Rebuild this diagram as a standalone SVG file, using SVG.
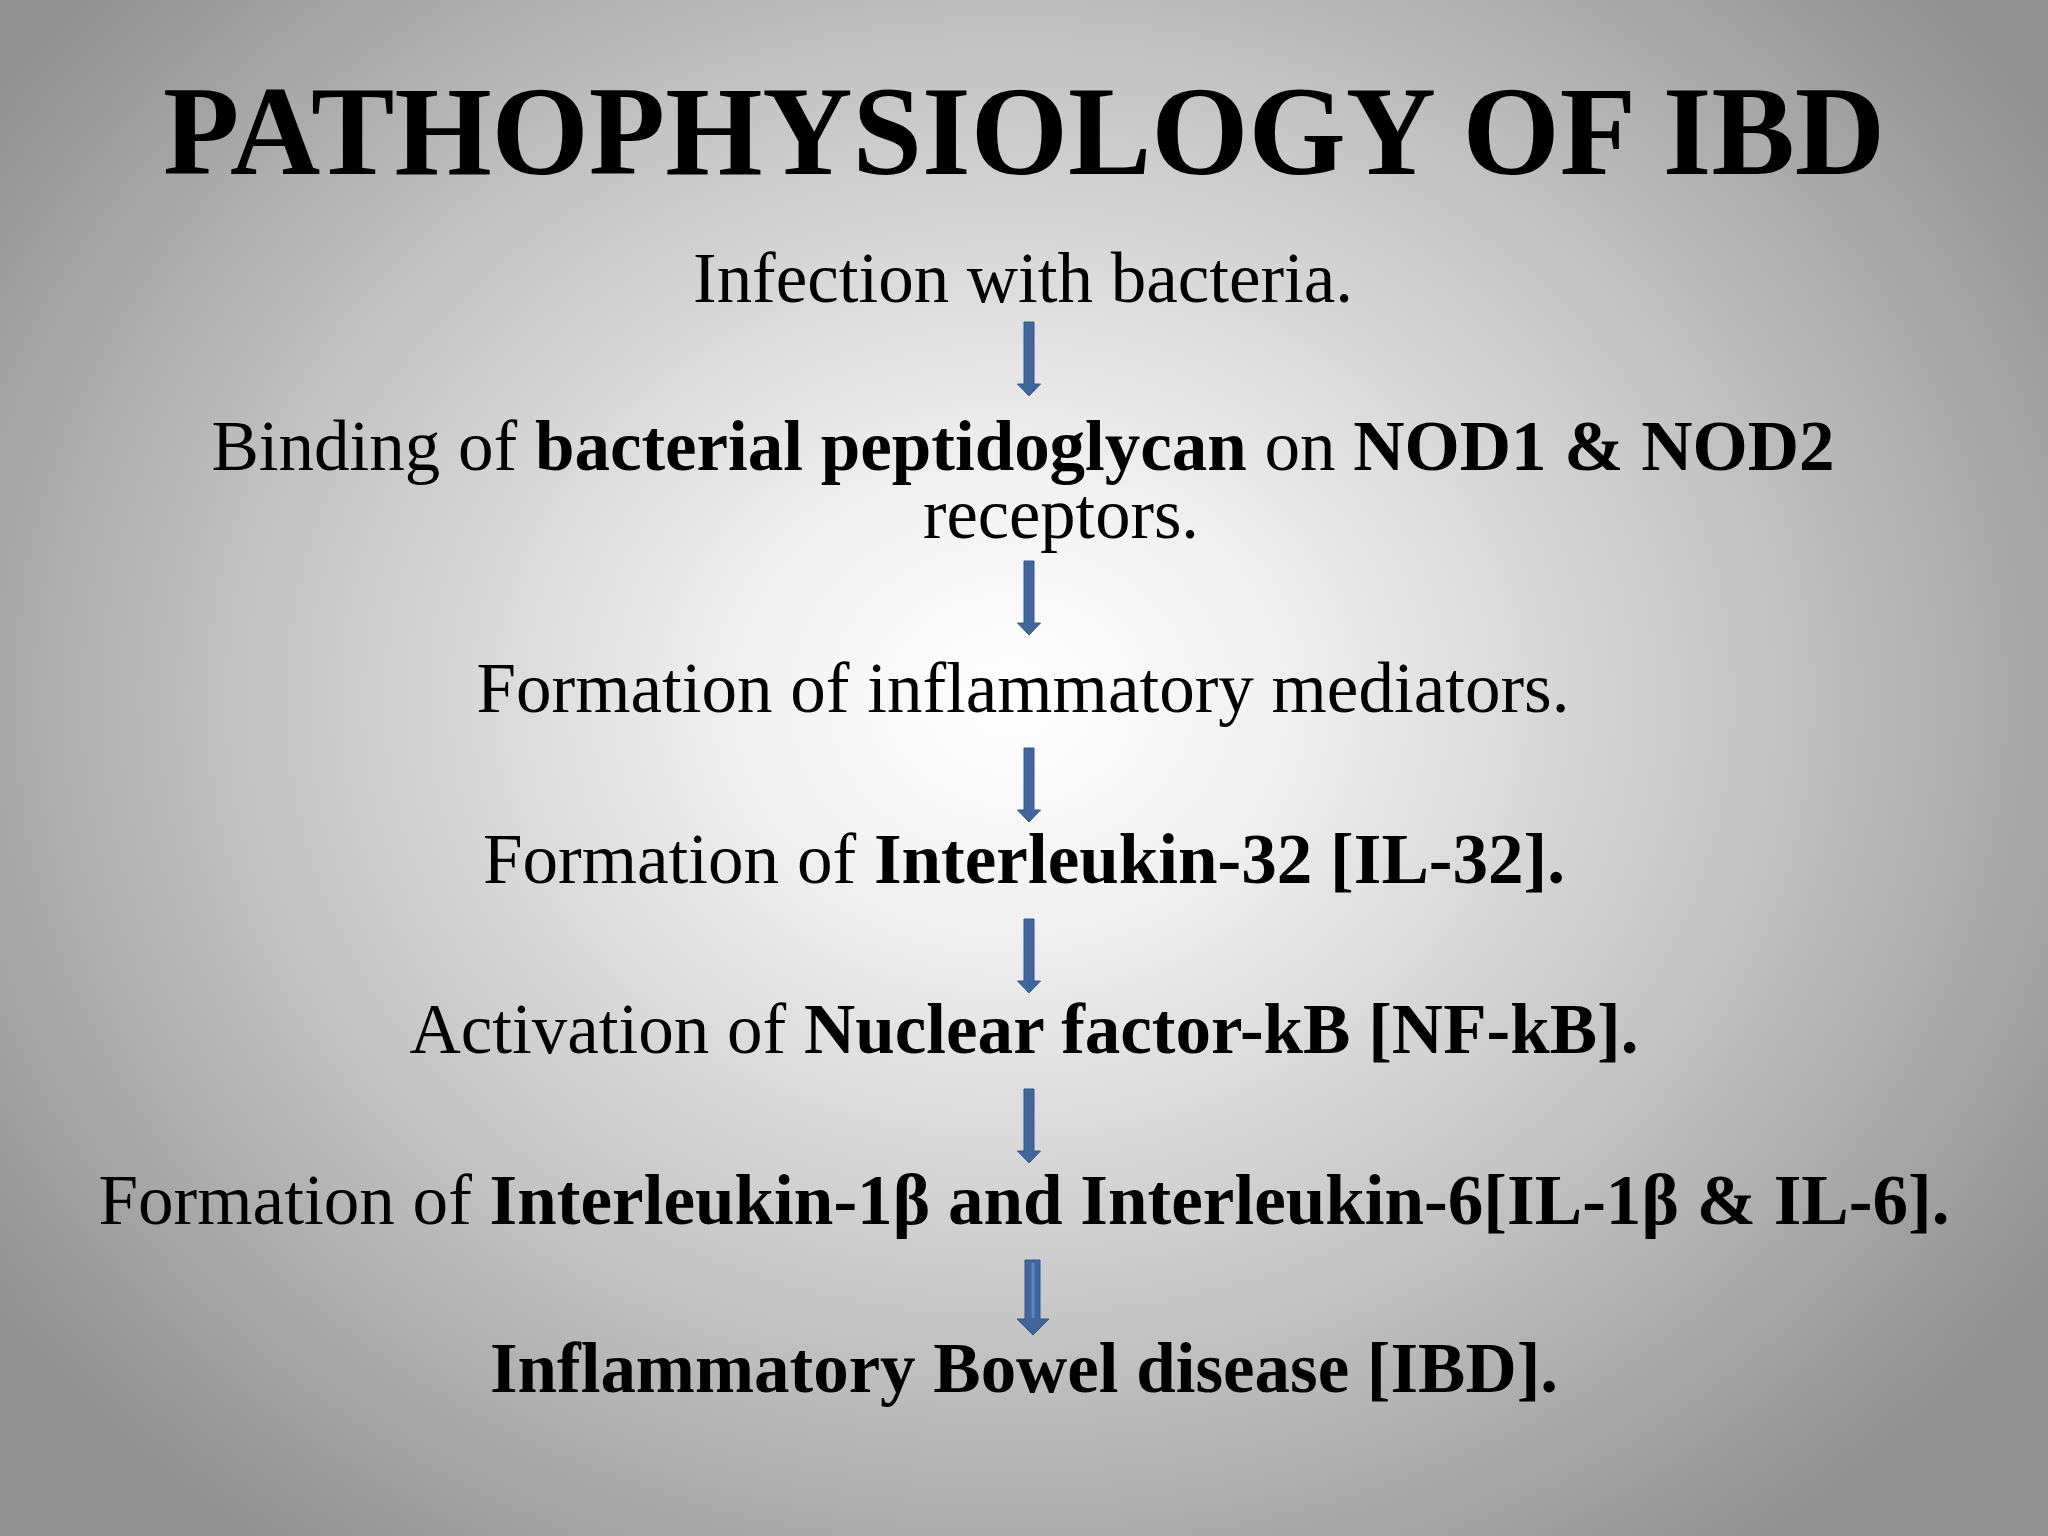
<svg xmlns="http://www.w3.org/2000/svg" width="2048" height="1536" viewBox="0 0 2048 1536">
<defs>
<radialGradient id="bg" cx="1010" cy="700" r="1250" gradientUnits="userSpaceOnUse" gradientTransform="translate(1010 700) scale(1 0.85) translate(-1010 -700)">
<stop offset="0" stop-color="#ffffff"/>
<stop offset="0.2" stop-color="#f2f2f2"/>
<stop offset="0.6" stop-color="#c4c4c4"/>
<stop offset="1" stop-color="#909090"/>
</radialGradient>
<path id="arr" d="M-5,0 H5 V62 H11.5 L0,74 L-11.5,62 H-5 Z"/>
</defs>
<style>
.t{font-family:"Liberation Serif","Times New Roman",serif;font-size:72px;fill:#000;text-anchor:middle}
.b{font-weight:bold}
.title{font-family:"Liberation Serif","Times New Roman",serif;font-size:128px;font-weight:bold;fill:#000;text-anchor:middle}
.a{fill:#41669b;stroke:#35568a;stroke-width:1}
</style>
<rect width="2048" height="1536" fill="url(#bg)"/>
<g id="title"><text class="title" x="1024" y="174" textLength="1722" lengthAdjust="spacingAndGlyphs">PATHOPHYSIOLOGY OF IBD</text></g>
<g id="n1"><text class="t" x="1023" y="302" textLength="660" lengthAdjust="spacingAndGlyphs">Infection with bacteria.</text></g>
<g id="n2"><text class="t" x="1023" y="470" textLength="1623" lengthAdjust="spacingAndGlyphs">Binding of <tspan class="b">bacterial peptidoglycan</tspan> on <tspan class="b">NOD1 &amp; NOD2</tspan></text>
<text class="t" x="1061" y="538" textLength="276" lengthAdjust="spacingAndGlyphs">receptors.</text></g>
<g id="n3"><text class="t" x="1023" y="712" textLength="1093" lengthAdjust="spacingAndGlyphs">Formation of inflammatory mediators.</text></g>
<g id="n4"><text class="t" x="1024" y="883" textLength="1082" lengthAdjust="spacingAndGlyphs">Formation of <tspan class="b">Interleukin-32 [IL-32].</tspan></text></g>
<g id="n5"><text class="t" x="1024" y="1053" textLength="1229" lengthAdjust="spacingAndGlyphs">Activation of <tspan class="b">Nuclear factor-kB [NF-kB].</tspan></text></g>
<g id="n6"><text class="t" x="1024" y="1224" textLength="1851" lengthAdjust="spacingAndGlyphs">Formation of <tspan class="b">Interleukin-1β and Interleukin-6[IL-1β &amp; IL-6].</tspan></text></g>
<g id="n7"><text class="t b" x="1024" y="1392" textLength="1068" lengthAdjust="spacingAndGlyphs">Inflammatory Bowel disease [IBD].</text></g>
<g id="connectors">
<use href="#arr" class="a" x="1029" y="322"/>
<use href="#arr" class="a" x="1029" y="561"/>
<use href="#arr" class="a" x="1029" y="748"/>
<use href="#arr" class="a" x="1029" y="919"/>
<use href="#arr" class="a" x="1029" y="1089"/>
<path class="a" d="M1025,1260 H1040 V1319 H1049 L1033,1335 L1017,1319 H1025 Z"/>
<line x1="1033" y1="1263" x2="1033" y2="1318" stroke="#5f86bd" stroke-width="3"/>
</g>
</svg>
